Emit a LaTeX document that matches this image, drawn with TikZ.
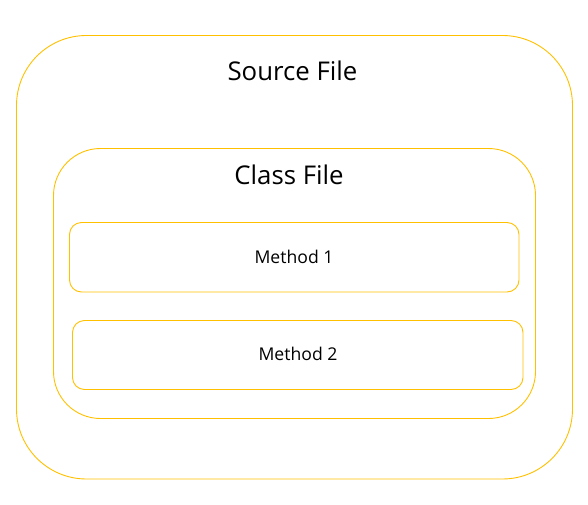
\documentclass[tikz,border=0pt]{standalone}
\usepackage{fontspec}
\setmainfont{Open Sans}
\definecolor{gold}{HTML}{FFC000}
\tikzset{
  box/.style={draw=gold, line width=0.9pt},
  title/.style={anchor=base, font=\fontsize{25.8}{30}\selectfont},
  label/.style={anchor=base, font=\fontsize{17.6}{21}\selectfont}
}
\begin{document}
\begin{tikzpicture}[x=1pt,y=-1pt]
  \useasboundingbox (0,0) rectangle (588,505);

  \draw[box, rounded corners=70pt] (16.5,35.5) rectangle (572.5,479);
  \node[title] (source) at (292.5,80.5) {Source File};

  \draw[box, rounded corners=47pt] (53.5,148.5) rectangle (535.5,418.5);
  \node[title] (class) at (289,184) {Class File};

  \draw[box, rounded corners=12pt] (69.5,222.5) rectangle (519,292);
  \node[label] (method1) at (294,263) {Method 1};
  \draw[box, rounded corners=12pt] (72.5,320.5) rectangle (523,389.5);
  \node[label] (method2) at (298,360.5) {Method 2};

\end{tikzpicture}
\end{document}
